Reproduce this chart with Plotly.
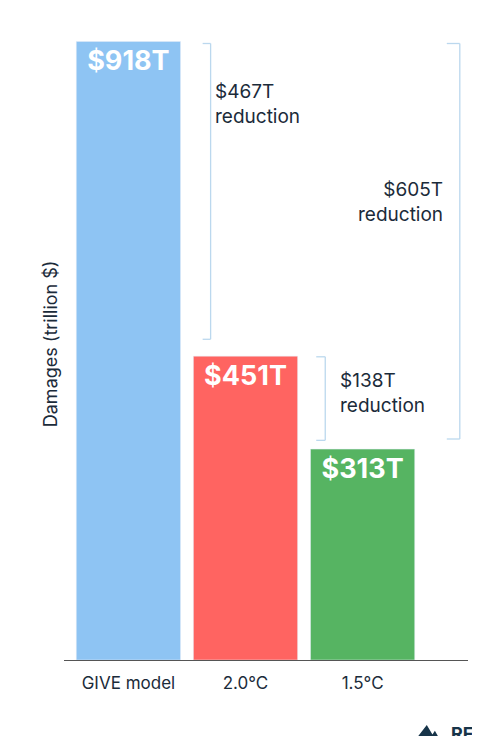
import plotly.graph_objects as go

categories = ["GIVE model", "2.0°C", "1.5°C"]
values = [918, 451, 313]
labels = ["$918T", "$451T", "$313T"]
colors = ["#8EC4F3", "#FF6461", "#56B462"]

fig = go.Figure(go.Bar(
    x=[0, 1, 2], y=values, width=0.89, marker_color=colors,
    text=labels, textposition="inside", insidetextanchor="end",
    textfont=dict(family="Inter", size=27, color="white", weight="bold"),
    cliponaxis=False,
))
bc = "#BBD8EE"
def bracket(x0, x1, y0, y1):
    return [
        dict(type="line", x0=x1, x1=x1, y0=y0, y1=y1),
        dict(type="line", x0=x0, x1=x1, y0=y0, y1=y0),
        dict(type="line", x0=x0, x1=x1, y0=y1, y1=y1),
    ]
shapes = bracket(0.634, 0.702, 915, 476) + bracket(1.604, 1.681, 450, 326) + bracket(2.719, 2.83, 915, 328)
for s in shapes:
    s.update(xref="x", yref="y", line=dict(color=bc, width=1.3))
# RFF logo mountains
shapes.append(dict(type="path", xref="paper", yref="paper",
                   path="M 0.864 -0.131 L 0.898 -0.103 L 0.912 -0.118 L 0.918 -0.112 L 0.935 -0.131 Z",
                   fillcolor="#173449", line_width=0))
fig.update_layout(shapes=shapes)
tf = dict(family="Inter", size=19, color="#1b2b3a")
fig.add_annotation(x=0.72, y=825, xref="x", yref="y", text="$467T<br>reduction", showarrow=False,
                   xanchor="left", align="left", font=tf)
fig.add_annotation(x=1.79, y=397, xref="x", yref="y", text="$138T<br>reduction", showarrow=False,
                   xanchor="left", align="left", font=tf)
fig.add_annotation(x=2.7, y=680, xref="x", yref="y", text="$605T<br>reduction", showarrow=False,
                   xanchor="right", align="right", font=tf)
fig.add_annotation(x=0.953, y=-0.117, xref="paper", yref="paper", text="<b>RFF</b>", showarrow=False,
                   xanchor="left", yanchor="middle", font=dict(family="Inter", size=18, color="#173449"))
fig.add_annotation(x=-0.065, y=0.5, xref="paper", yref="paper", text="Damages (trillion $)", showarrow=False,
                   textangle=-90, font=dict(family="Inter", size=18, color="#1b2b3a"))

fig.update_layout(
    width=480, height=736, margin=dict(l=56, r=20, t=20, b=84, autoexpand=False),
    plot_bgcolor="white", paper_bgcolor="white", showlegend=False,
    xaxis=dict(range=[-0.55, 2.9], tickvals=[0, 1, 2], ticktext=categories, showgrid=False,
               zeroline=False, showline=True, linecolor="#555", linewidth=1, automargin=False,
               tickfont=dict(family="Inter", size=17, color="#1b2b3a"), ticks="", ticklabelstandoff=8),
    yaxis=dict(range=[0, 938], showticklabels=False, showgrid=False, zeroline=False, automargin=False),
)
fig.write_html("out.html")
